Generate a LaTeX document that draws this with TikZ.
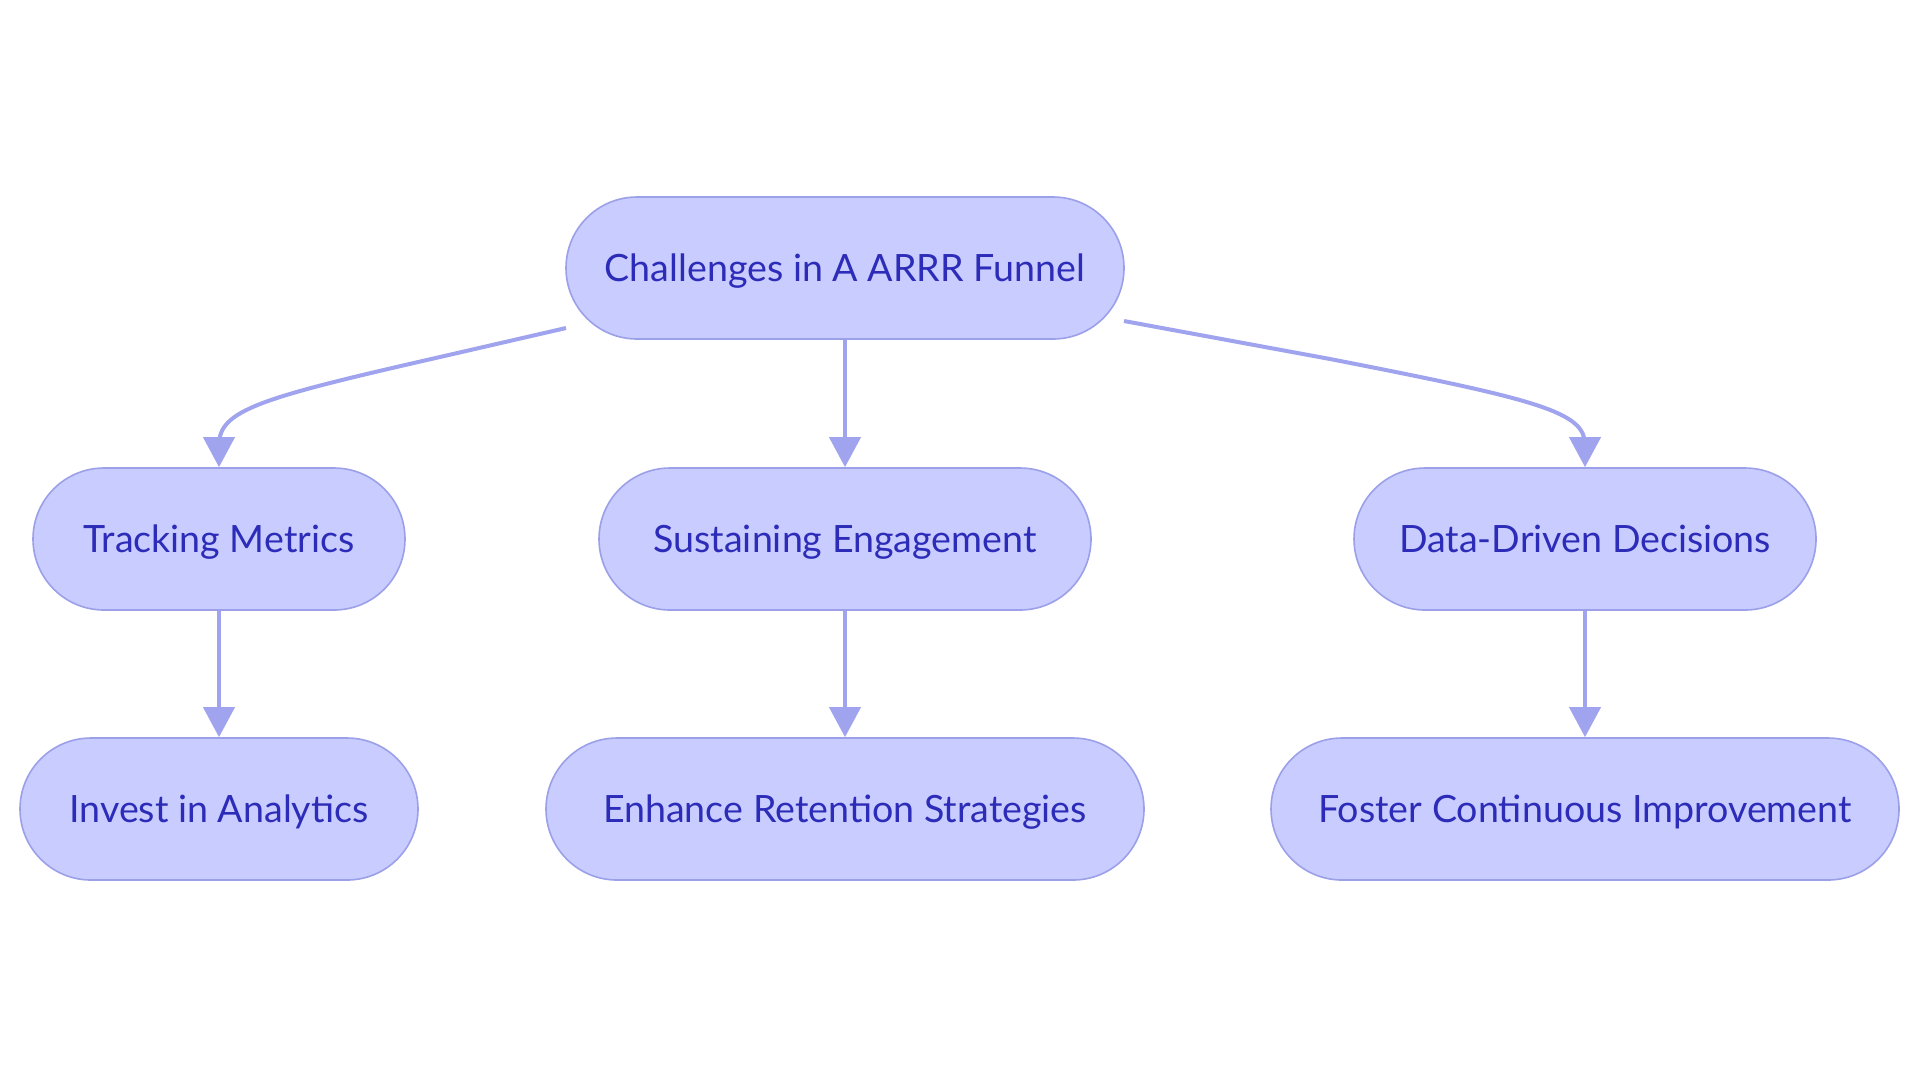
\documentclass[tikz,border=0pt]{standalone}
\usepackage{fontspec}
\setmainfont{Lato}
\usetikzlibrary{arrows.meta}
\definecolor{boxfill}{RGB}{201,204,255}
\definecolor{boxline}{RGB}{155,160,232}
\definecolor{edgecol}{RGB}{160,164,238}
\definecolor{txtcol}{RGB}{44,44,184}
\begin{document}
\begin{tikzpicture}[x=0.5pt,y=-0.5pt,
  pill/.style={draw=boxline,line width=0.8pt,fill=boxfill,text=txtcol,
    rounded corners=35.5pt,minimum height=71pt,inner sep=0pt,
    text height=13.4pt,text depth=0pt,
    font=\fontsize{18.8}{20}\selectfont},
  edge/.style={draw=edgecol,line width=2pt,-{Triangle[width=15.5pt,length=15pt]}}]
\useasboundingbox (0,0) rectangle (1920,1083);
\node[pill,minimum width=279pt] (root) at (845,268) {Challenges in A ARRR Funnel};
\node[pill,minimum width=186pt] (tm) at (219,539) {Tracking Metrics};
\node[pill,minimum width=246pt] (se) at (845,539) {Sustaining Engagement};
\node[pill,minimum width=231pt] (dd) at (1585,539) {Data-Driven Decisions};
\node[pill,minimum width=199pt] (ia) at (219,809) {Invest in Analytics};
\node[pill,minimum width=299pt] (er) at (845,809) {Enhance Retention Strategies};
\node[pill,minimum width=314pt] (fc) at (1585,809) {Foster Continuous Improvement};
\coordinate (ls) at (566,328);
\coordinate (rs) at (1124,321);
\draw[edge] (ls) -- (440,357) .. controls (260,398) and (219,410) .. (219,445) -- (tm.north);
\draw[edge] (rs) -- (1330,359) .. controls (1540,400) and (1585,412) .. (1585,445) -- (dd.north);
\draw[edge] (root.south) -- (se.north);
\draw[edge] (tm.south) -- (ia.north);
\draw[edge] (se.south) -- (er.north);
\draw[edge] (dd.south) -- (fc.north);
\end{tikzpicture}
\end{document}
